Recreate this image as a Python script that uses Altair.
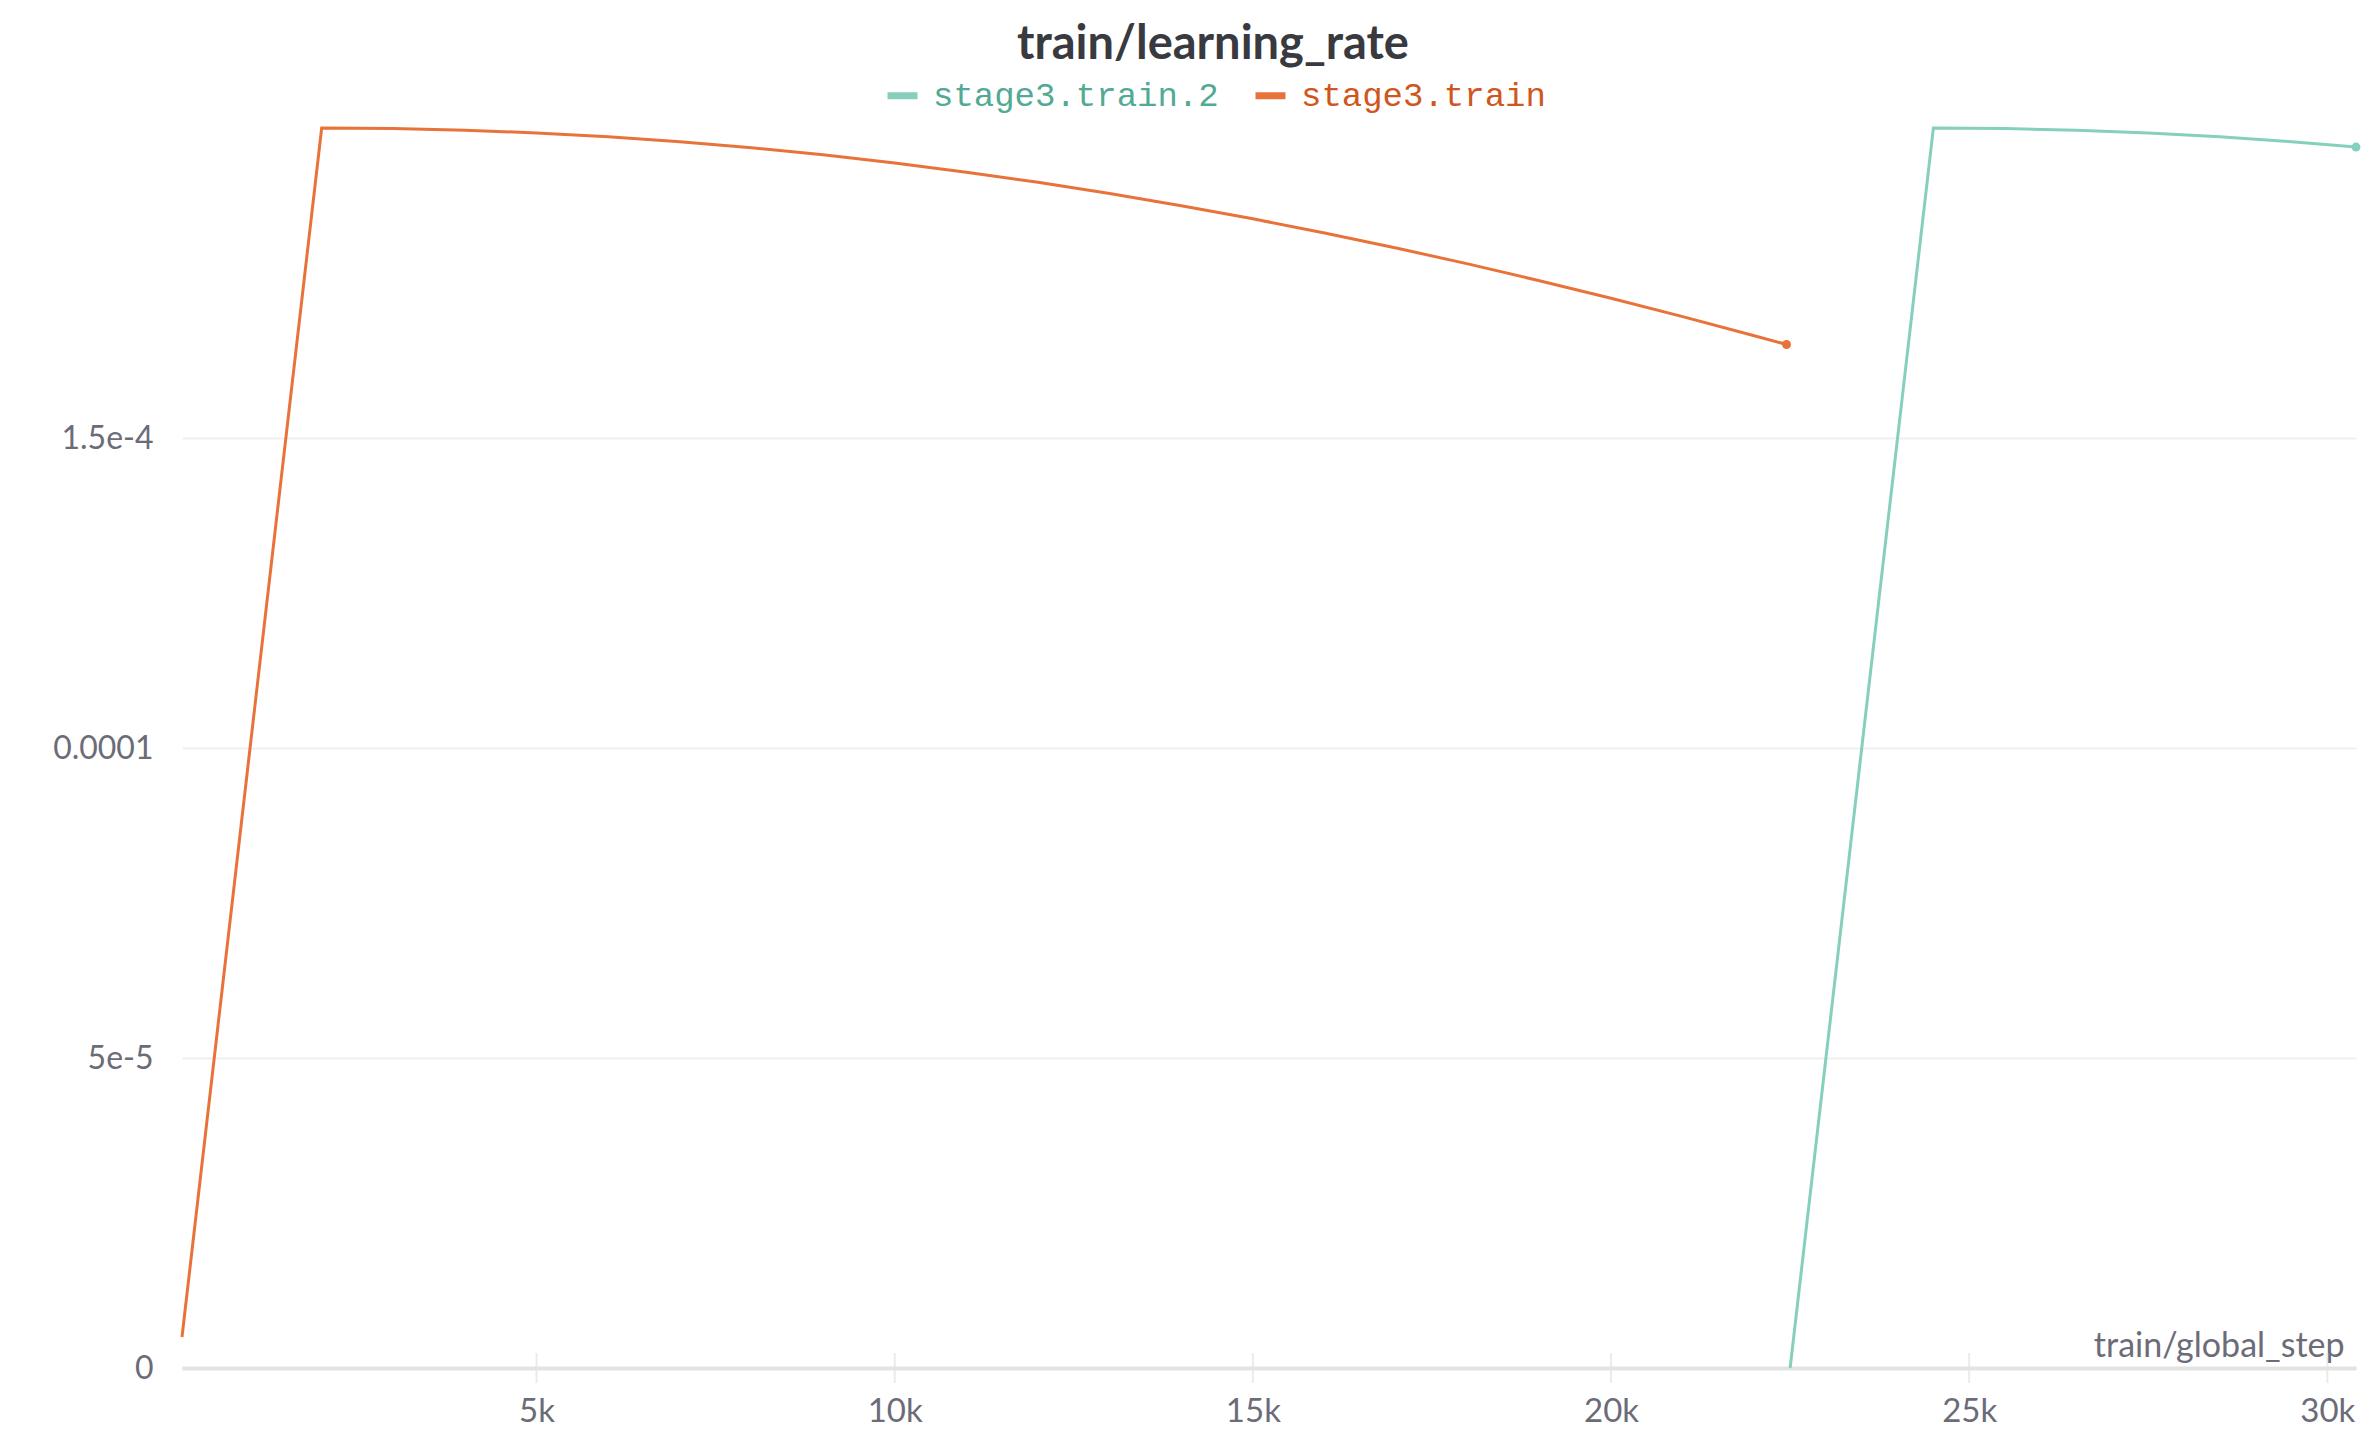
import altair as alt
import pandas as pd

series_names = ["stage3.train.2", "stage3.train"]
line_colors = ["#87cfbd", "#e8733a"]
label_colors = ["#52a994", "#cf561d"]

# stage3.train (orange)
orange_steps = [50, 1000, 2000, 3000, 4000, 5000, 6000, 7000, 8000, 9000, 10000,
                11000, 12000, 13000, 14000, 15000, 16000, 17000, 18000, 19000,
                20000, 21000, 22000, 22450]
orange_lr = [0.05e-4, 1.0e-4, 2.0e-4, 1.9991e-4, 1.9964e-4, 1.9920e-4, 1.9858e-4,
             1.9779e-4, 1.9682e-4, 1.9567e-4, 1.9436e-4, 1.9288e-4, 1.9124e-4,
             1.8943e-4, 1.8747e-4, 1.8535e-4, 1.8307e-4, 1.8065e-4, 1.7808e-4,
             1.7537e-4, 1.7254e-4, 1.6958e-4, 1.6650e-4, 1.6508e-4]

# stage3.train.2 (teal)
teal_steps = [22500, 24500, 25500, 26500, 27500, 28500, 29500, 30400]
teal_lr = [0.0, 2.0e-4, 1.9991e-4, 1.9964e-4, 1.9920e-4, 1.9858e-4, 1.9779e-4, 1.9692e-4]

x_ticks = [5000, 10000, 15000, 20000, 25000, 30000]
y_ticks = [0, 5e-5, 1e-4, 1.5e-4]
y_tick_labels = ["0", "5e-5", "0.0001", "1.5e-4"]

rows = []
for s, v in zip(teal_steps, teal_lr):
    rows.append({"step": s, "lr": v, "series": series_names[0]})
for s, v in zip(orange_steps, orange_lr):
    rows.append({"step": s, "lr": v, "series": series_names[1]})
df = pd.DataFrame(rows)

last_df = pd.DataFrame([
    {"step": teal_steps[-1], "lr": teal_lr[-1], "color": line_colors[0]},
    {"step": orange_steps[-1], "lr": orange_lr[-1], "color": line_colors[1]},
])
tick_df = pd.DataFrame({"step": x_ticks, "zero": [0] * len(x_ticks)})

label_expr = ""
for v, lab in zip(y_ticks, y_tick_labels):
    label_expr += f"abs(datum.value - {v!r}) < 1e-10 ? '{lab}' : "
label_expr += "''"

color_expr = f"datum.value == '{series_names[1]}' ? '{label_colors[1]}' : '{label_colors[0]}'"

FONT = "Lato"
GRAY = "#6b6c78"

x_scale = alt.Scale(zero=False, nice=False)
y_scale = alt.Scale(nice=False)

x_axis = alt.Axis(values=x_ticks, format="~s", labelFont=FONT, labelFontSize=33,
                  labelColor=GRAY, labelPadding=27, ticks=False, tickSize=0,
                  domainColor="#e3e3e3", domainWidth=4, grid=False,
                  labelFlush=False,
                  title="train/global_step", titleFont=FONT, titleFontSize=34,
                  titleFontWeight="normal", titleColor=GRAY, titleAlign="right",
                  titleAnchor="end", titleX=2162, titleY=-12,
                  titleBaseline="alphabetic")
y_axis = alt.Axis(values=y_ticks, labelExpr=label_expr, labelFont=FONT,
                  labelFontSize=32, labelColor=GRAY, labelPadding=29,
                  ticks=False, tickSize=0, domain=False, grid=True,
                  gridColor="#efefef", gridWidth=2, title=None)

legend = alt.Legend(title=None, orient="none", legendX=702, legendY=-51,
                    direction="horizontal", symbolType="stroke",
                    symbolStrokeWidth=7, symbolSize=900,
                    labelFont="Liberation Mono", labelFontSize=34,
                    labelColor=alt.ExprRef(expr=color_expr),
                    columnPadding=22, labelOffset=12, labelLimit=800)

lines = alt.Chart(df).mark_line(strokeWidth=3).encode(
    x=alt.X("step:Q", scale=x_scale, axis=x_axis),
    y=alt.Y("lr:Q", scale=y_scale, axis=y_axis),
    color=alt.Color("series:N",
                    scale=alt.Scale(domain=series_names, range=line_colors),
                    legend=legend),
    detail="series:N",
)

points = alt.Chart(last_df).mark_circle(size=80, opacity=1).encode(
    x="step:Q",
    y="lr:Q",
    color=alt.Color("color:N", scale=None),
)

ticks = alt.Chart(tick_df).mark_tick(orient="vertical", size=30, thickness=2,
                                      color="#e3e3e3").encode(
    x="step:Q",
    y="zero:Q",
)

chart = alt.layer(ticks, lines, points).properties(
    width=2174,
    height=1240,
    autosize="none",
    padding={"left": 174, "top": 120, "right": 12, "bottom": 70},
    title=alt.TitleParams("train/learning_rate", font=FONT, fontSize=47,
                          fontWeight="bold", color="#393a3f", anchor="middle",
                          dx=-56, offset=8),
    background="white",
).configure_view(stroke=None)

chart.save("out.html", embed_options={"renderer": "svg", "actions": False})
